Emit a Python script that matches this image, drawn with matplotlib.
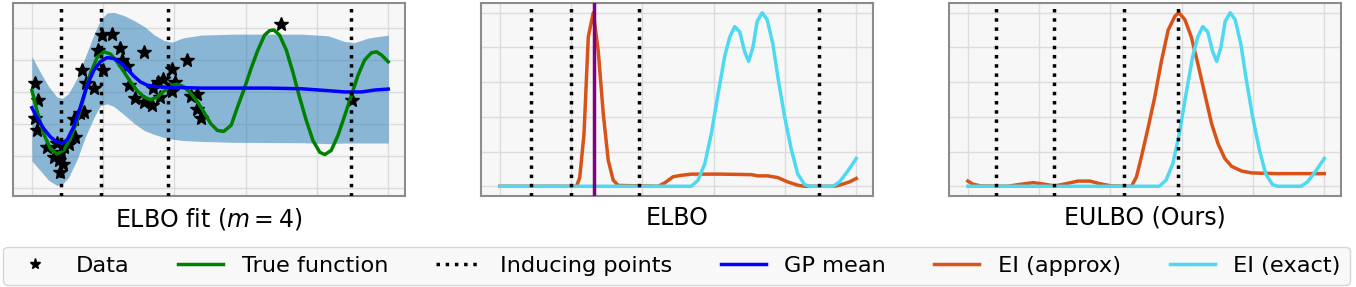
import numpy as np
import matplotlib
matplotlib.use("Agg")
import matplotlib.pyplot as plt
from matplotlib.lines import Line2D

# ---------------- data ----------------
true_x = [0.000, 0.014, 0.033, 0.052, 0.070, 0.089, 0.108, 0.127, 0.146, 0.164, 0.183, 0.202, 0.221,
          0.239, 0.258, 0.277, 0.296, 0.315, 0.333, 0.352, 0.371, 0.390, 0.408, 0.427, 0.446, 0.465,
          0.484, 0.502, 0.521, 0.538, 0.559, 0.577, 0.596, 0.615, 0.634, 0.653, 0.667, 0.679, 0.695,
          0.714, 0.732, 0.751, 0.770, 0.789, 0.808, 0.822, 0.840, 0.859, 0.878, 0.897, 0.915, 0.934,
          0.953, 0.967, 0.981, 1.000]
true_y = [0.05, -0.57, -1.30, -1.77, -1.93, -1.82, -1.46, -0.89, -0.16, 0.57, 1.07, 1.25, 1.18,
          0.94, 0.63, 0.31, 0.03, -0.16, -0.24, -0.16, 0.03, 0.20, 0.24, 0.16, -0.05, -0.31,
          -0.65, -0.99, -1.20, -1.23, -1.04, -0.47, 0.10, 0.73, 1.30, 1.77, 1.91, 1.93, 1.77,
          1.30, 0.63, -0.16, -0.89, -1.52, -1.88, -1.95, -1.82, -1.35, -0.73, -0.10, 0.52, 1.00,
          1.22, 1.25, 1.15, 0.94]

mean_x = [0.000, 0.014, 0.033, 0.052, 0.070, 0.085, 0.099, 0.117, 0.136, 0.155, 0.174, 0.192, 0.211,
          0.230, 0.249, 0.268, 0.286, 0.305, 0.324, 0.352, 0.399, 0.474, 0.662, 0.756, 0.831, 0.878,
          0.925, 0.962, 1.000]
mean_y = [-0.49, -0.78, -1.14, -1.40, -1.56, -1.59, -1.49, -1.09, -0.47, 0.21, 0.68, 0.94, 1.07,
          1.04, 0.91, 0.71, 0.49, 0.31, 0.21, 0.16, 0.14, 0.12, 0.12, 0.10, 0.04, 0.00,
          0.00, 0.06, 0.09]

upper_x = [0.000, 0.023, 0.047, 0.070, 0.085, 0.103, 0.127, 0.150, 0.174, 0.192, 0.211, 0.230, 0.258,
           0.286, 0.315, 0.343, 0.371, 0.394, 0.423, 0.474, 0.568, 0.756, 0.831, 0.878, 0.906, 0.944, 1.000]
upper_y = [1.10, 0.63, 0.17, -0.15, -0.20, -0.05, 0.43, 1.10, 1.78, 2.23, 2.46, 2.48, 2.38,
           2.23, 2.04, 1.78, 1.60, 1.55, 1.68, 1.77, 1.80, 1.80, 1.75, 1.57, 1.54, 1.68, 1.77]
lower_y = [-2.15, -2.44, -2.75, -2.91, -2.88, -2.66, -2.10, -1.40, -0.80, -0.43, -0.37, -0.45, -0.70,
           -0.97, -1.20, -1.32, -1.42, -1.47, -1.51, -1.54, -1.57, -1.58, -1.61, -1.59, -1.59, -1.59, -1.59]

data_x = [0.008, 0.017, 0.009, 0.014, 0.042, 0.061, 0.075, 0.082, 0.086, 0.078, 0.070, 0.091, 0.103,
          0.122, 0.119, 0.136, 0.147, 0.141, 0.151, 0.174, 0.185, 0.197, 0.225, 0.199, 0.246, 0.254,
          0.266, 0.272, 0.288, 0.315, 0.315, 0.338, 0.341, 0.354, 0.369, 0.360, 0.394, 0.401, 0.393,
          0.435, 0.446, 0.463, 0.463, 0.474, 0.698, 0.897]
data_y = [0.28, -0.26, -0.80, -1.19, -1.71, -2.02, -2.13, -1.86, -2.23, -2.49, -1.60, -1.71, -1.63,
          -1.40, -0.83, -0.67, -0.61, 0.69, 0.27, 0.11, 1.31, 1.76, 1.81, 0.67, 1.36, 0.98,
          0.82, 0.21, -0.18, 1.24, -0.31, -0.41, 0.11, 0.30, 0.40, -0.15, 0.71, 0.31, 0.03,
          0.98, -0.14, -0.07, -0.54, -0.81, 2.11, -0.26]

inducing_fit = [0.082, 0.194, 0.383, 0.896]
inducing_elbo = [0.087, 0.199, 0.389, 0.896]
inducing_eulbo = [0.079, 0.242, 0.438, 0.590]
elbo_argmax = 0.263

ei_exact_x = [0.000, 0.537, 0.556, 0.575, 0.593, 0.612, 0.631, 0.645, 0.659, 0.673, 0.687, 0.698, 0.710,
              0.722, 0.736, 0.750, 0.766, 0.780, 0.799, 0.818, 0.836, 0.855, 0.869, 0.935, 0.953, 0.977, 1.000]
ei_exact_y = [0.0, 0.0, 0.035, 0.13, 0.30, 0.53, 0.75, 0.86, 0.92, 0.89, 0.775, 0.72, 0.80,
              0.95, 1.0, 0.96, 0.82, 0.63, 0.40, 0.21, 0.07, 0.01, 0.0, 0.0, 0.025, 0.09, 0.16]

ei_elbo_x = [0.000, 0.215, 0.224, 0.236, 0.248, 0.262, 0.276, 0.290, 0.304, 0.318, 0.332, 0.444, 0.463,
             0.486, 0.509, 0.537, 0.621, 0.706, 0.724, 0.752, 0.780, 0.808, 0.836, 0.855, 0.939, 0.958,
             0.981, 1.000]
ei_elbo_y = [0.0, 0.0, 0.05, 0.30, 0.86, 1.0, 0.78, 0.42, 0.15, 0.035, 0.005, 0.0, 0.02,
             0.055, 0.063, 0.07, 0.07, 0.067, 0.06, 0.06, 0.05, 0.025, 0.006, 0.0, 0.0, 0.01,
             0.025, 0.045]

ei_eulbo_x = [0.000, 0.014, 0.037, 0.112, 0.150, 0.183, 0.215, 0.243, 0.276, 0.309, 0.342, 0.370, 0.403,
              0.459, 0.473, 0.487, 0.506, 0.524, 0.543, 0.562, 0.581, 0.592, 0.609, 0.627, 0.646, 0.665,
              0.684, 0.702, 0.721, 0.740, 0.768, 0.796, 0.861, 1.000]
ei_eulbo_y = [0.03, 0.012, 0.002, 0.0, 0.012, 0.021, 0.012, 0.002, 0.015, 0.03, 0.03, 0.015, 0.002,
              0.0, 0.054, 0.17, 0.34, 0.51, 0.72, 0.90, 0.98, 1.0, 0.96, 0.86, 0.70, 0.53,
              0.36, 0.245, 0.16, 0.115, 0.088, 0.077, 0.073, 0.073]

titles = ["ELBO fit ($m = 4$)", "ELBO", "EULBO (Ours)"]
legend_labels = ["Data", "True function", "Inducing points", "GP mean", "EI (approx)", "EI (exact)"]

# ---------------- styling ----------------
C_ORANGE = "#d95319"
C_CYAN = "#4dd9f2"
C_FILL = "#1f77b4"
FS_TITLE = 17
FS_LEG = 16.2

fig = plt.figure(figsize=(13.56, 2.87), dpi=100)
W = 392 / 1356
B = 91 / 287
H = 193 / 287
lefts = [13 / 1356, 481 / 1356, 949 / 1356]
axes = [fig.add_axes([l, B, W, H]) for l in lefts]

for ax, t in zip(axes, titles):
    ax.set_facecolor("#f7f7f7")
    ax.grid(True, color="#dcdcdc", linewidth=1.0)
    ax.set_axisbelow(True)
    for s in ax.spines.values():
        s.set_color("#8c8c8c")
        s.set_linewidth(1.5)
    ax.tick_params(length=0, labelbottom=False, labelleft=False)
    ax.set_xticks(np.linspace(0, 1, 6))
    ax.set_xlim(-0.053, 1.047)
    ax.set_xlabel(t, fontsize=FS_TITLE, labelpad=7)

# panel 1
ax = axes[0]
ax.fill_between(upper_x, lower_y, upper_y, color=C_FILL, alpha=0.5, linewidth=0, zorder=1)
ax.plot(data_x, data_y, linestyle="none", marker="*", color="black", markersize=10, zorder=3)
ax.plot(true_x, true_y, color="green", linewidth=2.5, zorder=4)
ax.plot(mean_x, mean_y, color="blue", linewidth=2.5, zorder=5)
for xv in inducing_fit:
    ax.axvline(xv, color="black", linestyle=":", linewidth=2.5, zorder=6)
ax.set_yticks([-3, -2, -1, 0, 1, 2])
ax.set_ylim(-3.24, 2.77)

# panel 2
ax = axes[1]
ax.plot(ei_elbo_x, ei_elbo_y, color=C_ORANGE, linewidth=2.5, zorder=3)
ax.plot(ei_exact_x, ei_exact_y, color=C_CYAN, linewidth=2.5, zorder=4)
ax.axvline(elbo_argmax, color="purple", linewidth=2.5, zorder=5)
for xv in inducing_elbo:
    ax.axvline(xv, color="black", linestyle=":", linewidth=2.5, zorder=6)

# panel 3
ax = axes[2]
ax.plot(ei_eulbo_x, ei_eulbo_y, color=C_ORANGE, linewidth=2.5, zorder=3)
ax.plot(ei_exact_x, ei_exact_y, color=C_CYAN, linewidth=2.5, zorder=4)
for xv in inducing_eulbo:
    ax.axvline(xv, color="black", linestyle=":", linewidth=2.5, zorder=6)

for ax in axes[1:]:
    ax.set_yticks(np.linspace(0, 1, 6))
    ax.set_ylim(-0.056, 1.056)

handles = [
    Line2D([], [], linestyle="none", marker="*", color="black", markersize=8),
    Line2D([], [], color="green", linewidth=2.5),
    Line2D([], [], color="black", linestyle=":", linewidth=2.5),
    Line2D([], [], color="blue", linewidth=2.5),
    Line2D([], [], color=C_ORANGE, linewidth=2.5),
    Line2D([], [], color=C_CYAN, linewidth=2.5),
]
leg = fig.legend(handles, legend_labels, loc="lower center", bbox_to_anchor=(0.4989, 0.007),
                 ncol=6, fontsize=FS_LEG, frameon=True, fancybox=True, handlelength=2.0,
                 columnspacing=2.15, handletextpad=0.83, borderpad=0.4, borderaxespad=0.0)
leg.get_frame().set_edgecolor("#cccccc")
leg.get_frame().set_facecolor("#f7f7f7")

fig.savefig("out.png", dpi=100)
